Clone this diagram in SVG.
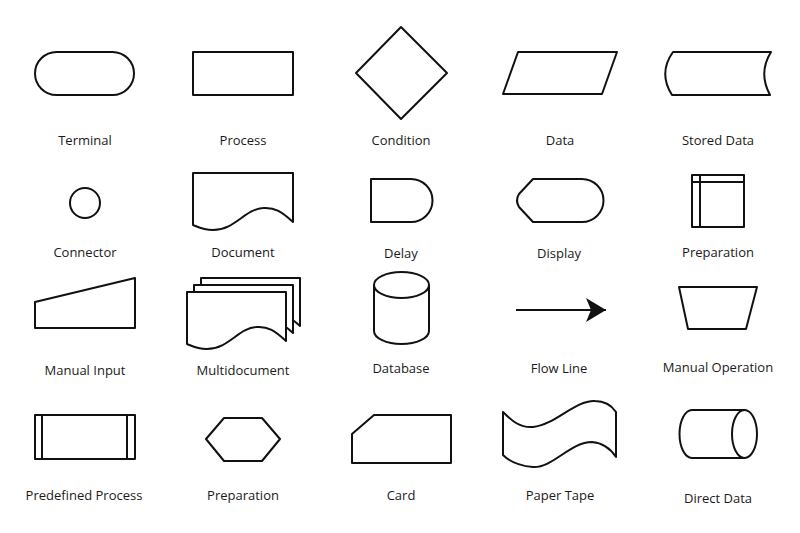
<svg xmlns="http://www.w3.org/2000/svg" xmlns:xlink="http://www.w3.org/1999/xlink" width="800" height="533" viewBox="0 0 800 533">
<style>
.s{fill:#fff;stroke:#111;stroke-width:2;stroke-linejoin:round}
.l{fill:none;stroke:#111;stroke-width:2}
text{font-family:"Open Sans","Noto Sans","Liberation Sans",sans-serif;font-size:13px;fill:#1a1a1a;text-anchor:middle}
</style>
<defs>
<path id="doc" d="M0,0 H100 V49 C89,39 82,34 70,35 C52,36 42,57 20,57 C10,57 5,54 0,52 Z"/>
<marker id="ah" viewBox="0 0 20 24" refX="20" refY="12" markerWidth="20" markerHeight="24" markerUnits="userSpaceOnUse" orient="auto">
<path d="M0,0 L20,12 L0,24 L5,12 Z" fill="#111"/>
</marker>
</defs>
<rect width="800" height="533" fill="#fff"/>

<g id="terminal"><rect class="s" x="35" y="52" width="99" height="43" rx="21.5"/><text x="85" y="145">Terminal</text></g>
<g id="process"><rect class="s" x="193" y="52" width="100" height="43"/><text x="243" y="145">Process</text></g>
<g id="condition"><polygon class="s" points="401,27 447,73 401,119 356,73"/><text x="401" y="145">Condition</text></g>
<g id="data"><polygon class="s" points="518,52 617,52 602,94 503,94"/><text x="560" y="145">Data</text></g>
<g id="stored-data"><path class="s" d="M673,52 H771 Q758,73 770,95 H672 Q658,73 673,52 Z"/><text x="718" y="145">Stored Data</text></g>

<g id="connector"><circle class="s" cx="85" cy="203" r="15"/><text x="85" y="257">Connector</text></g>
<g id="document"><use href="#doc" xlink:href="#doc" class="s" x="193" y="173"/><text x="243" y="257">Document</text></g>
<g id="delay"><path class="s" d="M371,179 H411 A21.5,21.5 0 0 1 411,222 H371 Z"/><text x="401" y="258">Delay</text></g>
<g id="display"><path class="s" d="M533,179 H582 A21.5,21.5 0 0 1 582,222 H533 L519,207 Q515,200.5 519,194 Z"/><text x="559" y="258">Display</text></g>
<g id="preparation-1"><rect class="s" x="692" y="175" width="52" height="52"/><line class="l" x1="700" y1="175" x2="700" y2="227"/><line class="l" x1="692" y1="182" x2="744" y2="182"/><text x="718" y="257">Preparation</text></g>

<g id="manual-input"><polygon class="s" points="35,302 135,278 135,328 35,328"/><text x="85" y="375">Manual Input</text></g>
<g id="multidocument">
<use href="#doc" xlink:href="#doc" class="s" transform="translate(201,278) scale(0.99,0.98)"/>
<use href="#doc" xlink:href="#doc" class="s" transform="translate(194,285) scale(0.99,0.98)"/>
<use href="#doc" xlink:href="#doc" class="s" transform="translate(187,292) scale(0.99,1)"/>
<text x="243" y="375">Multidocument</text></g>
<g id="database"><path class="s" d="M374,285 V331 A27.5,13 0 0 0 429,331 V285"/><ellipse class="s" cx="401.5" cy="285" rx="27.5" ry="13"/><text x="401" y="373">Database</text></g>
<g id="manual-operation"><polygon class="s" points="679,287 757,287 746,329 688,329"/><text x="718" y="372">Manual Operation</text></g>

<g id="predefined-process"><rect class="s" x="35" y="415" width="100" height="44"/><line class="l" x1="42" y1="415" x2="42" y2="459"/><line class="l" x1="127" y1="415" x2="127" y2="459"/><text x="84" y="500">Predefined Process</text></g>
<g id="preparation-2"><polygon class="s" points="206,439 224,418 262,418 280,439 262,461 224,461"/><text x="243" y="500">Preparation</text></g>
<g id="card"><polygon class="s" points="374,415 451,415 451,463 352,463 352,434"/><text x="401" y="500">Card</text></g>
<g id="paper-tape"><path class="s" d="M503,412 C512,421 520,428 533,427 C555,425 575,400 595,401 C605,401 612,406 616,412 V457 C612,451 605,443 592,442 C570,442 553,468 533,467 C520,466 510,462 503,455 Z"/><text x="560" y="500">Paper Tape</text></g>
<g id="direct-data"><path class="s" d="M692,410 H744.5 V458 H692 A12.5,24 0 0 1 692,410 Z"/><ellipse class="s" cx="744.5" cy="434" rx="12.5" ry="24"/><text x="718" y="503">Direct Data</text></g>

<g id="connectors"><line class="l" x1="516" y1="310" x2="606" y2="310" marker-end="url(#ah)"/><text x="559" y="373">Flow Line</text></g>
</svg>
